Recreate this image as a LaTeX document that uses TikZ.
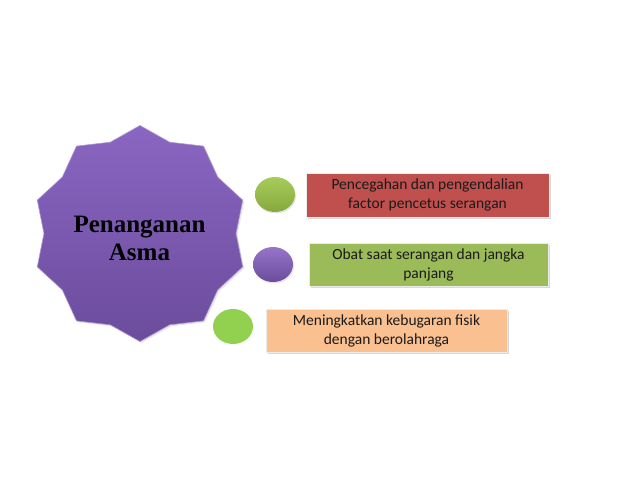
\documentclass[tikz,border=0pt]{standalone}
\usepackage{fontspec}
\setmainfont{Liberation Serif}
\newfontfamily\calibrifont{Carlito}
\usetikzlibrary{shapes.geometric,shadows,shadings}
\definecolor{starTop}{HTML}{8A66C2}
\definecolor{starBot}{HTML}{6B4C9C}
\definecolor{boxRed}{HTML}{C0504D}
\definecolor{boxGreen}{HTML}{9BBB59}
\definecolor{boxOrange}{HTML}{FAC090}
\definecolor{dotGreen}{HTML}{92D050}
\definecolor{dotTop}{HTML}{A8CC5A}
\definecolor{dotBot}{HTML}{86A93E}
\definecolor{txtDark}{HTML}{1A1A1A}
\tikzset{
  infobox/.style={rectangle, draw=white!92!black, line width=0.8pt,
    minimum height=43pt, inner sep=0pt, align=center, text=txtDark,
    font=\calibrifont\fontsize{15.5}{19}\selectfont,
    drop shadow={shadow xshift=2pt, shadow yshift=-2pt, opacity=0.3}},
  dot/.style={ellipse, minimum width=40pt, minimum height=35pt, inner sep=0pt},
  softshadow/.style={drop shadow={shadow xshift=1pt, shadow yshift=-1.5pt, opacity=0.2}}
}
\begin{document}
\begin{tikzpicture}[x=1pt,y=-1pt]
\useasboundingbox[fill=white] (0,0) rectangle (638,478);
% star
\coordinate (star) at (140,233.5);
\path[top color=starTop, bottom color=starBot, draw=starTop!70!white, line width=0.6pt,
  drop shadow={shadow xshift=1.5pt, shadow yshift=-1.5pt, opacity=0.2}]
  ({140+108*cos(90)},{233.5-108*sin(90)})
  \foreach \a in {108,144,...,432} {
    -- ({140+96*cos(\a)},{233.5-96*sin(\a)})
    -- ({140+108*cos(\a+18)},{233.5-108*sin(\a+18)})
  } -- cycle;
\node[align=center, font=\bfseries\fontsize{25}{28}\selectfont, text=black]
  (title) at (139.5,238) {Penanganan\\Asma};
% dots
\node[dot, softshadow, top color=dotTop, bottom color=dotBot] (d1) at (275,194.5) {};
\node[dot, softshadow, top color=starTop!90!white, bottom color=starBot] (d2) at (273,264.5) {};
\node[dot, fill=dotGreen] (d3) at (233,326.5) {};
% boxes
\node[infobox, fill=boxRed, minimum width=243pt, minimum height=44pt] (b1) at (427.5,195)
  {Pencegahan dan pengendalian\\factor pencetus serangan};
\node[infobox, fill=boxGreen, minimum width=239pt] (b2) at (428.5,264.5)
  {Obat saat serangan dan jangka\\panjang};
\node[infobox, fill=boxOrange, minimum width=241pt] (b3) at (386.5,330.5)
  {Meningkatkan kebugaran fisik\\dengan berolahraga};
\end{tikzpicture}
\end{document}
